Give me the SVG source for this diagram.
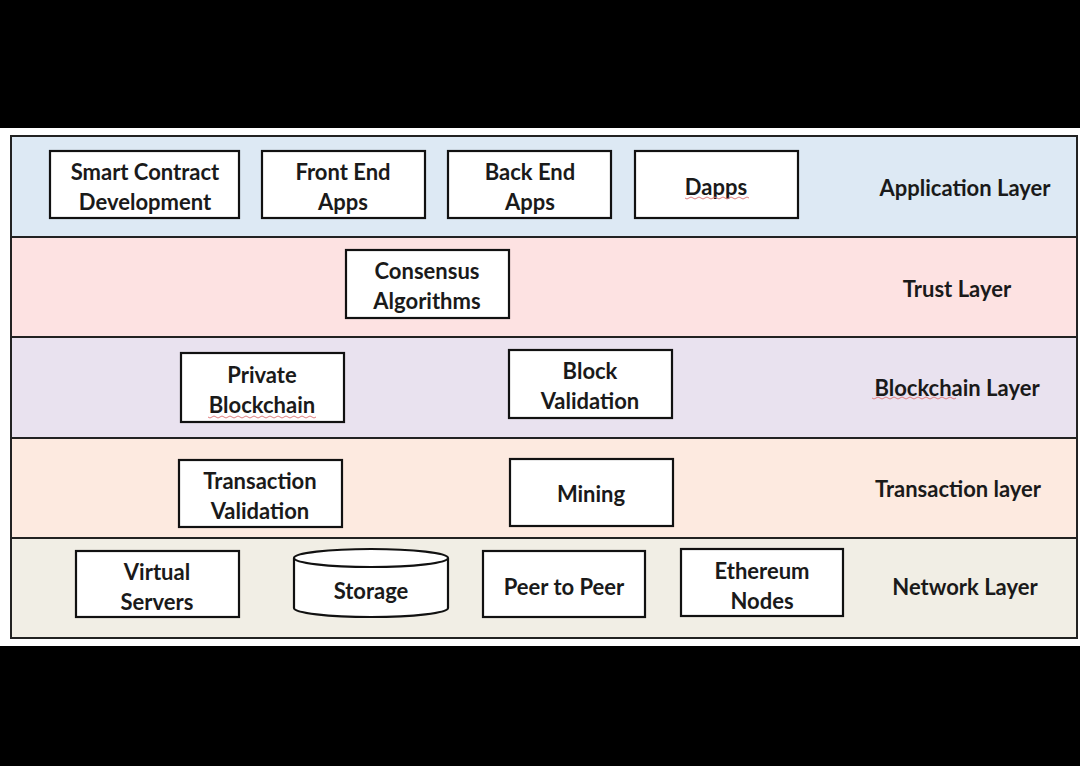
<svg xmlns="http://www.w3.org/2000/svg" width="1080" height="766" viewBox="0 0 1080 766">
<style>
.bg{fill:#000}
.band{stroke:#222;stroke-width:2}
.box{fill:#fff;stroke:#111;stroke-width:2.2}
text{font-family:Lato,"Open Sans","Liberation Sans",sans-serif;font-weight:bold;font-size:22px;fill:#1a1a1a;text-anchor:middle;dominant-baseline:central}
.sq{fill:none;stroke:#e08080;stroke-width:1}
</style>
<rect class="bg" x="0" y="0" width="1080" height="766"/>
<rect x="0" y="128" width="1080" height="518" fill="#fff"/>
<g id="layers">
<rect class="band" x="11" y="136" width="1066" height="101" fill="#dde9f4"/>
<rect class="band" x="11" y="237" width="1066" height="100" fill="#fde2e2"/>
<rect class="band" x="11" y="337" width="1066" height="101" fill="#e9e2ef"/>
<rect class="band" x="11" y="438" width="1066" height="100" fill="#fdeae0"/>
<rect class="band" x="11" y="538" width="1066" height="100" fill="#f1eee5"/>
<text x="965" y="187">Application Layer</text>
<text x="957" y="288">Trust Layer</text>
<text x="957" y="387">Blockchain Layer</text>
<path class="sq" d="M872 398 q2 2 4 0 t4 0 t4 0 t4 0 t4 0 t4 0 t4 0 t4 0 t4 0 t4 0 t4 0 t4 0 t4 0 t4 0 t4 0 t4 0 t4 0 t4 0 t4 0 t4 0 t4 0"/>
<text x="958" y="488">Transaction layer</text>
<text x="965" y="586">Network Layer</text>
</g>
<g id="smart-contract"><rect class="box" x="50" y="151" width="189" height="67"/><text x="145" y="171">Smart Contract</text><text x="145" y="201">Development</text></g>
<g id="front-end"><rect class="box" x="262" y="151" width="163" height="67"/><text x="343" y="171">Front End</text><text x="343" y="201">Apps</text></g>
<g id="back-end"><rect class="box" x="448" y="151" width="163" height="67"/><text x="530" y="171">Back End</text><text x="530" y="201">Apps</text></g>
<g id="dapps"><rect class="box" x="635" y="151" width="163" height="67"/><text x="716" y="186">Dapps</text><path class="sq" d="M685 198 q2 2 4 0 t4 0 t4 0 t4 0 t4 0 t4 0 t4 0 t4 0 t4 0 t4 0 t4 0 t4 0 t4 0 t4 0 t4 0 t4 0"/></g>
<g id="consensus"><rect class="box" x="346" y="250" width="163" height="68"/><text x="427" y="270">Consensus</text><text x="427" y="300">Algorithms</text></g>
<g id="private-blockchain"><rect class="box" x="181" y="353" width="163" height="69"/><text x="262" y="374">Private</text><text x="262" y="404">Blockchain</text><path class="sq" d="M208 417 q2 2 4 0 t4 0 t4 0 t4 0 t4 0 t4 0 t4 0 t4 0 t4 0 t4 0 t4 0 t4 0 t4 0 t4 0 t4 0 t4 0 t4 0 t4 0 t4 0 t4 0 t4 0 t4 0 t4 0 t4 0 t4 0 t4 0 t4 0"/></g>
<g id="block-validation"><rect class="box" x="509" y="350" width="163" height="68"/><text x="590" y="370">Block</text><text x="590" y="400">Validation</text></g>
<g id="transaction-validation"><rect class="box" x="179" y="460" width="163" height="67"/><text x="260" y="480">Transaction</text><text x="260" y="510">Validation</text></g>
<g id="mining"><rect class="box" x="510" y="459" width="163" height="67"/><text x="591" y="493">Mining</text></g>
<g id="virtual-servers"><rect class="box" x="76" y="551" width="163" height="66"/><text x="157" y="571">Virtual</text><text x="157" y="601">Servers</text></g>
<g id="storage"><path class="box" d="M294 558 L294 608 A77 9 0 0 0 448 608 L448 558 A77 9 0 0 0 294 558 Z"/><path fill="none" stroke="#111" stroke-width="2.2" d="M294 558 A77 9 0 0 0 448 558"/><text x="371" y="590">Storage</text></g>
<g id="peer-to-peer"><rect class="box" x="483" y="551" width="162" height="66"/><text x="564" y="586">Peer to Peer</text></g>
<g id="ethereum-nodes"><rect class="box" x="681" y="549" width="162" height="67"/><text x="762" y="570">Ethereum</text><text x="762" y="600">Nodes</text></g>
<g id="connectors"/>
</svg>
